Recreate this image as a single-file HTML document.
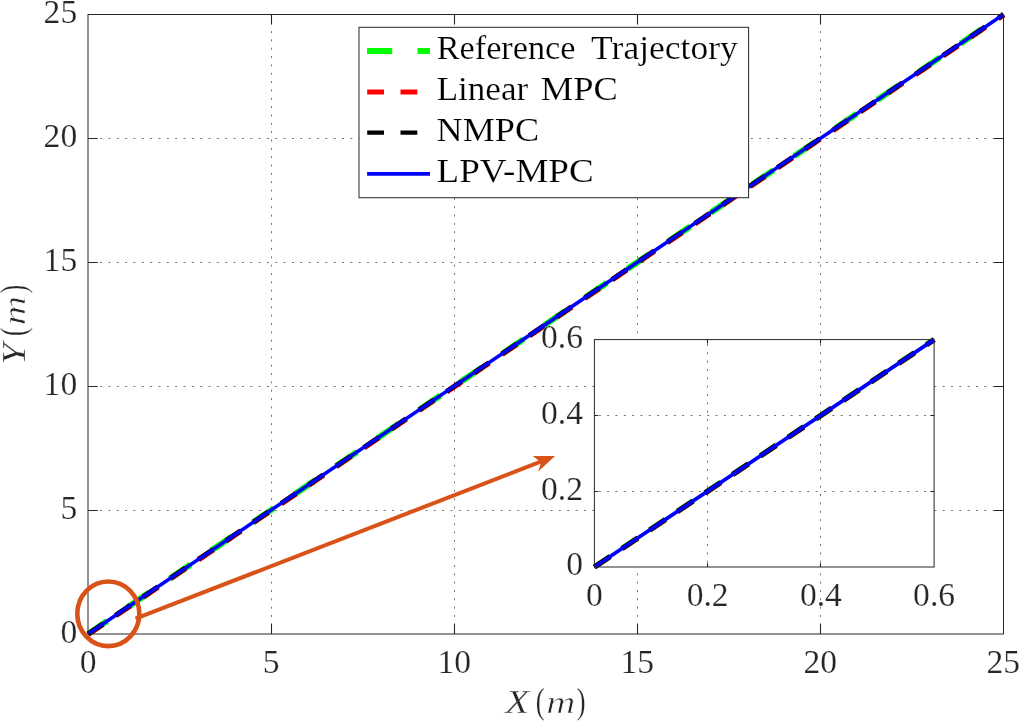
<!DOCTYPE html>
<html><head><meta charset="utf-8"><title>plot</title>
<style>html,body{margin:0;padding:0;background:#fff;overflow:hidden}svg{display:block}</style>
</head><body>
<svg width="1019" height="722" viewBox="0 0 1019 722">
<rect x="0" y="0" width="1019" height="722" fill="#fff"/>
<line x1="271.5" y1="14.5" x2="271.5" y2="634.0" stroke="#777777" stroke-width="1.0" stroke-dasharray="2 6.342" stroke-dashoffset="-8.2"/>
<line x1="88.0" y1="510.5" x2="1003.5" y2="510.5" stroke="#777777" stroke-width="1.0" stroke-dasharray="2 6.342" stroke-dashoffset="-3.75"/>
<line x1="454.5" y1="14.5" x2="454.5" y2="634.0" stroke="#777777" stroke-width="1.0" stroke-dasharray="2 6.342" stroke-dashoffset="-8.2"/>
<line x1="88.0" y1="386.5" x2="1003.5" y2="386.5" stroke="#777777" stroke-width="1.0" stroke-dasharray="2 6.342" stroke-dashoffset="-3.75"/>
<line x1="637.5" y1="14.5" x2="637.5" y2="634.0" stroke="#777777" stroke-width="1.0" stroke-dasharray="2 6.342" stroke-dashoffset="-8.2"/>
<line x1="88.0" y1="262.5" x2="1003.5" y2="262.5" stroke="#777777" stroke-width="1.0" stroke-dasharray="2 6.342" stroke-dashoffset="-3.75"/>
<line x1="820.5" y1="14.5" x2="820.5" y2="634.0" stroke="#777777" stroke-width="1.0" stroke-dasharray="2 6.342" stroke-dashoffset="-8.2"/>
<line x1="88.0" y1="138.5" x2="1003.5" y2="138.5" stroke="#777777" stroke-width="1.0" stroke-dasharray="2 6.342" stroke-dashoffset="-3.75"/>
<line x1="88.00" y1="634.00" x2="1003.50" y2="14.50" stroke="#00ff00" stroke-width="6.2" stroke-dasharray="25.3 24.97" stroke-dashoffset="2.1"/>
<line x1="88.30" y1="634.30" x2="1003.80" y2="14.80" stroke="#ff0000" stroke-width="5.4" stroke-dasharray="17.8 15.5" stroke-dashoffset="0"/>
<line x1="88.00" y1="634.00" x2="1003.50" y2="14.50" stroke="#000000" stroke-width="4.8" stroke-dasharray="17.8 15.5" stroke-dashoffset="0"/>
<line x1="88.00" y1="634.00" x2="1003.50" y2="14.50" stroke="#0000ff" stroke-width="3.6"/>
<rect x="88.0" y="14.5" width="915.50" height="619.50" fill="none" stroke="#262626" stroke-width="1"/>
<path d="M271.5 634.0V624.30M271.5 14.5V24.20M88.0 510.5H97.70M1003.5 510.5H993.80M454.5 634.0V624.30M454.5 14.5V24.20M88.0 386.5H97.70M1003.5 386.5H993.80M637.5 634.0V624.30M637.5 14.5V24.20M88.0 262.5H97.70M1003.5 262.5H993.80M820.5 634.0V624.30M820.5 14.5V24.20M88.0 138.5H97.70M1003.5 138.5H993.80" stroke="#262626" stroke-width="1.1" fill="none"/>
<rect x="359.0" y="27.3" width="389.6" height="170.4" fill="#fff" stroke="#262626" stroke-width="1"/>
<line x1="367.00" y1="51.10" x2="430.00" y2="51.10" stroke="#00ff00" stroke-width="6" stroke-dasharray="25.2 25.3" stroke-dashoffset="0"/>
<line x1="367.20" y1="91.90" x2="430.00" y2="91.90" stroke="#ff0000" stroke-width="5" stroke-dasharray="16.8 16.5" stroke-dashoffset="0"/>
<line x1="367.20" y1="132.70" x2="430.00" y2="132.70" stroke="#000000" stroke-width="4.3" stroke-dasharray="16.8 16.5" stroke-dashoffset="0"/>
<line x1="367.10" y1="173.90" x2="430.00" y2="173.90" stroke="#0000ff" stroke-width="3.8"/>
<g font-family="Liberation Serif, serif" font-size="33.5" fill="#000" stroke="#fff" stroke-width="0.2">
<text x="436.68" y="59.4" textLength="138.81" lengthAdjust="spacingAndGlyphs">Reference</text>
<text x="591.14" y="59.4" textLength="146.61" lengthAdjust="spacingAndGlyphs">Trajectory</text>
<text x="436.65" y="99.8" textLength="91.49" lengthAdjust="spacingAndGlyphs">Linear</text>
<text x="540.81" y="99.8" textLength="77.01" lengthAdjust="spacingAndGlyphs">MPC</text>
<text x="436.62" y="141.0" textLength="102.51" lengthAdjust="spacingAndGlyphs">NMPC</text>
<text x="436.59" y="181.5" textLength="157.07" lengthAdjust="spacingAndGlyphs">LPV-MPC</text>
</g>
<g font-family="Liberation Serif, serif" font-size="33.6" fill="#262626" stroke="#fff" stroke-width="0.2">
<text x="88.20" y="673.1" text-anchor="middle">0</text>
<text x="271.20" y="673.1" text-anchor="middle">5</text>
<text x="454.20" y="673.1" text-anchor="middle">10</text>
<text x="637.20" y="673.1" text-anchor="middle">15</text>
<text x="820.20" y="673.1" text-anchor="middle">20</text>
<text x="1003.20" y="673.1" text-anchor="middle">25</text>
<text x="77.2" y="642.50" text-anchor="end">0</text>
<text x="77.2" y="518.50" text-anchor="end">5</text>
<text x="77.2" y="394.50" text-anchor="end">10</text>
<text x="77.2" y="270.50" text-anchor="end">15</text>
<text x="77.2" y="146.50" text-anchor="end">20</text>
<text x="77.2" y="22.50" text-anchor="end">25</text>
</g>
<g font-family="Liberation Serif, serif" fill="#262626" stroke="#fff" stroke-width="0.6">
<text transform="translate(505.31 713.00) scale(1.147 1)" font-size="34.3" font-style="italic" stroke-width="0.35">X</text>
<text transform="translate(535.84 713.00) scale(0.725 1)" font-size="36.5" stroke-width="0.2">(</text>
<text transform="translate(546.14 713.00) scale(1.302 1)" font-size="31.0" font-style="italic">m</text>
<text transform="translate(576.65 713.00) scale(0.725 1)" font-size="36.5" stroke-width="0.2">)</text>
<g transform="translate(25.3 364) rotate(-90)">
<text transform="translate(-1.04 0.00) scale(1.141 1)" font-size="34.3" font-style="italic" stroke-width="0.35">Y</text>
<text transform="translate(28.09 0.00) scale(0.693 1)" font-size="36.5" stroke-width="0.2">(</text>
<text transform="translate(38.83 0.00) scale(1.312 1)" font-size="31.0" font-style="italic">m</text>
<text transform="translate(70.68 0.00) scale(0.693 1)" font-size="36.5" stroke-width="0.2">)</text>
</g></g>
<rect x="594.4" y="339.6" width="339.70" height="227.40" fill="#fff"/>
<line x1="707.5" y1="339.60" x2="707.5" y2="567.00" stroke="#777777" stroke-width="1.0" stroke-dasharray="2 6.342" stroke-dashoffset="-4.3"/>
<line x1="594.40" y1="491.5" x2="934.10" y2="491.5" stroke="#777777" stroke-width="1.0" stroke-dasharray="2 6.342" stroke-dashoffset="-4.36"/>
<line x1="820.5" y1="339.60" x2="820.5" y2="567.00" stroke="#777777" stroke-width="1.0" stroke-dasharray="2 6.342" stroke-dashoffset="-4.3"/>
<line x1="594.40" y1="415.5" x2="934.10" y2="415.5" stroke="#777777" stroke-width="1.0" stroke-dasharray="2 6.342" stroke-dashoffset="-4.36"/>
<line x1="594.40" y1="567.00" x2="934.10" y2="339.60" stroke="#00ff00" stroke-width="5.7" stroke-dasharray="18.8 14.5" stroke-dashoffset="0"/>
<line x1="594.50" y1="567.10" x2="934.20" y2="339.70" stroke="#ff0000" stroke-width="5.2" stroke-dasharray="18.8 14.5" stroke-dashoffset="0"/>
<line x1="594.40" y1="567.00" x2="934.10" y2="339.60" stroke="#000000" stroke-width="4.9" stroke-dasharray="18.8 14.5" stroke-dashoffset="0"/>
<line x1="594.40" y1="567.00" x2="934.10" y2="339.60" stroke="#0000ff" stroke-width="3.8"/>
<rect x="594.4" y="339.6" width="339.70" height="227.40" fill="none" stroke="#262626" stroke-width="1"/>
<path d="M707.5 567.00V563.20M707.5 339.60V343.40M594.40 491.5H598.20M934.10 491.5H930.30M820.5 567.00V563.20M820.5 339.60V343.40M594.40 415.5H598.20M934.10 415.5H930.30" stroke="#262626" stroke-width="1.1" fill="none"/>
<g font-family="Liberation Serif, serif" font-size="33.6" fill="#262626" stroke="#fff" stroke-width="0.2">
<text x="594.40" y="606.2" text-anchor="middle">0</text>
<text x="707.63" y="606.2" text-anchor="middle">0.2</text>
<text x="820.87" y="606.2" text-anchor="middle">0.4</text>
<text x="934.10" y="606.2" text-anchor="middle">0.6</text>
<text x="583" y="575.40" text-anchor="end">0</text>
<text x="583" y="499.60" text-anchor="end">0.2</text>
<text x="583" y="423.80" text-anchor="end">0.4</text>
<text x="583" y="348.00" text-anchor="end">0.6</text>
</g>
<ellipse cx="108.3" cy="613.8" rx="31" ry="32.3" fill="none" stroke="#d95319" stroke-width="4.6"/>
<line x1="135.5" y1="618.7" x2="542" y2="461.2" stroke="#d95319" stroke-width="4"/>
<polygon points="555.1,456.1 532.8,456.1 541.0,462.4 538.2,471.5" fill="#d95319"/>
</svg>
</body></html>
